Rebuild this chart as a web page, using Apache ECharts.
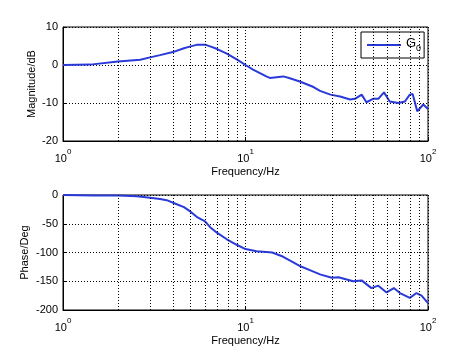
<!DOCTYPE html>
<html>
<head>
<meta charset="utf-8">
<script src="https://cdn.jsdelivr.net/npm/echarts@6/dist/echarts.min.js"></script>
<style>html,body{margin:0;padding:0;background:#fff}#c{width:474px;height:356px}</style>
</head>
<body>
<div id="c"></div>
<script>
// Magnitude response (frequency Hz, dB)
const magFreq = [1, 1.41, 2.0, 2.65, 3.0, 3.4, 4.0, 4.6, 5.0, 5.4, 6.0, 6.4, 7.0, 7.9, 9.0, 10, 11, 13, 13.6, 16.1, 17.5, 20, 23.6, 25.6, 29.2, 33, 37.4, 39.8, 43.3, 46, 50, 53.4, 57.4, 61.7, 68.7, 74.7, 79.5, 82.4, 87.3, 94.2, 100];
const magDb = [0, 0.1, 0.9, 1.4, 2.0, 2.6, 3.4, 4.4, 4.9, 5.3, 5.35, 4.9, 4.2, 3.0, 1.4, 0, -1.2, -3.0, -3.4, -3.0, -3.5, -4.4, -5.8, -6.8, -7.8, -8.3, -9.1, -8.9, -7.8, -9.8, -8.9, -8.9, -7.2, -9.6, -10, -9.6, -7.8, -7.6, -12.2, -10.4, -11.6];
// Phase response (frequency Hz, degrees)
const phaseFreq = [1, 1.47, 2, 2.54, 3, 3.4, 3.7, 4.2, 4.6, 5, 5.4, 6, 6.4, 7, 7.9, 9, 10, 11.5, 13, 14, 16, 18.5, 20, 22.7, 25.6, 29.7, 32.3, 38.9, 43.3, 49, 53.4, 59.3, 65, 70.2, 79.5, 86.5, 92.2, 100];
const phaseDeg = [0, -1, -1, -2.3, -4.6, -7, -9, -16, -21, -29, -38, -46, -56, -66, -77, -87, -94, -98, -99, -100, -107, -118, -124, -131, -138, -144, -143, -150, -148.5, -162, -157.7, -169.4, -161.8, -170.5, -179, -170.5, -175, -188];
// Axis ticks
const magTicks = [-20, -10, 0, 10];
const phaseTicks = [-200, -150, -100, -50, 0];
const minorFreqs = [2, 3, 4, 5, 6, 7, 8, 9, 20, 30, 40, 50, 60, 70, 80, 90];
const seriesName = 'G0';

const FONT = '"Liberation Sans", Arial, sans-serif';
const lineColor = '#2a3ad8';
const gridDots = { color: '#000', width: 1, type: [1, 2] };

function pairs(xs, ys) { return xs.map((x, i) => [x, ys[i]]); }

function xAxisFor(gi) {
  return {
    type: 'log', logBase: 10, min: 1, max: 100, gridIndex: gi,
    name: 'Frequency/Hz', nameLocation: 'middle', nameGap: 25, nameMoveOverlap: false,
    nameTextStyle: { fontFamily: FONT, fontSize: 11, color: '#000' },
    axisLine: { show: true, onZero: false, lineStyle: { color: '#000', width: 1 } },
    axisTick: { show: true, inside: true, length: 4, lineStyle: { color: '#000' } },
    splitLine: { show: true, lineStyle: gridDots },
    axisLabel: {
      fontFamily: FONT, color: '#000', margin: 7,
      formatter: v => '{b|10}{s|' + Math.round(Math.log10(v)) + '}',
      rich: {
        b: { fontFamily: FONT, fontSize: 11, color: '#000', lineHeight: 16, verticalAlign: 'bottom' },
        s: { fontFamily: FONT, fontSize: 8, color: '#000', lineHeight: 16, verticalAlign: 'top', padding: [0, 0, 7, 0] }
      }
    }
  };
}
function yAxisFor(gi, name, min, max, step, gap) {
  return {
    type: 'value', gridIndex: gi, min: min, max: max, interval: step,
    name: name, nameLocation: 'middle', nameGap: gap, nameMoveOverlap: false,
    nameTextStyle: { fontFamily: FONT, fontSize: 11, color: '#000' },
    axisLine: { show: true, lineStyle: { color: '#000', width: 1 } },
    axisTick: { show: true, inside: true, length: 4, lineStyle: { color: '#000' } },
    splitLine: { show: true, lineStyle: gridDots },
    axisLabel: { fontFamily: FONT, fontSize: 11, color: '#000', margin: 5 }
  };
}
function minorLines(gi) {
  return {
    type: 'line', xAxisIndex: gi, yAxisIndex: gi, z: 1, silent: true,
    data: [], symbol: 'none', lineStyle: { width: 0 },
    markLine: {
      silent: true, symbol: 'none', label: { show: false },
      lineStyle: gridDots, animation: false,
      data: minorFreqs.map(f => ({ xAxis: f }))
    }
  };
}

const chart = echarts.init(document.getElementById('c'), null, { renderer: 'canvas' });
chart.setOption({
  animation: false,
  backgroundColor: '#fff',
  grid: [
    { left: 63, right: 46, top: 27, height: 114, show: true, borderColor: '#000', borderWidth: 1 },
    { left: 63, right: 46, top: 195, height: 115, show: true, borderColor: '#000', borderWidth: 1 }
  ],
  legend: {
    data: [seriesName], left: 361, top: 32,
    borderColor: '#000', borderWidth: 1, backgroundColor: '#fff',
    padding: [5, 3, 5, 6], itemWidth: 34, itemHeight: 2, itemGap: 4,
    icon: 'rect',
    formatter: () => '{g|G}{s|0}',
    textStyle: {
      fontFamily: FONT, color: '#000',
      rich: {
        g: { fontFamily: FONT, fontSize: 13, color: '#000', lineHeight: 16, verticalAlign: 'top' },
        s: { fontFamily: FONT, fontSize: 9, color: '#000', lineHeight: 16, verticalAlign: 'bottom', padding: [6, 0, 0, 0] }
      }
    }
  },
  xAxis: [xAxisFor(0), xAxisFor(1)],
  yAxis: [
    yAxisFor(0, 'Magnitude/dB', magTicks[0], magTicks[magTicks.length - 1], magTicks[1] - magTicks[0], 26),
    yAxisFor(1, 'Phase/Deg', phaseTicks[0], phaseTicks[phaseTicks.length - 1], phaseTicks[1] - phaseTicks[0], 33)
  ],
  series: [
    minorLines(0),
    minorLines(1),
    {
      name: seriesName, type: 'line', xAxisIndex: 0, yAxisIndex: 0, z: 3,
      data: pairs(magFreq, magDb), symbol: 'none', showSymbol: false,
      lineStyle: { color: lineColor, width: 2 }, itemStyle: { color: lineColor }
    },
    {
      name: 'phase', type: 'line', xAxisIndex: 1, yAxisIndex: 1, z: 3,
      data: pairs(phaseFreq, phaseDeg), symbol: 'none', showSymbol: false,
      lineStyle: { color: lineColor, width: 2 }, itemStyle: { color: lineColor }
    }
  ]
});
</script>
</body>
</html>
